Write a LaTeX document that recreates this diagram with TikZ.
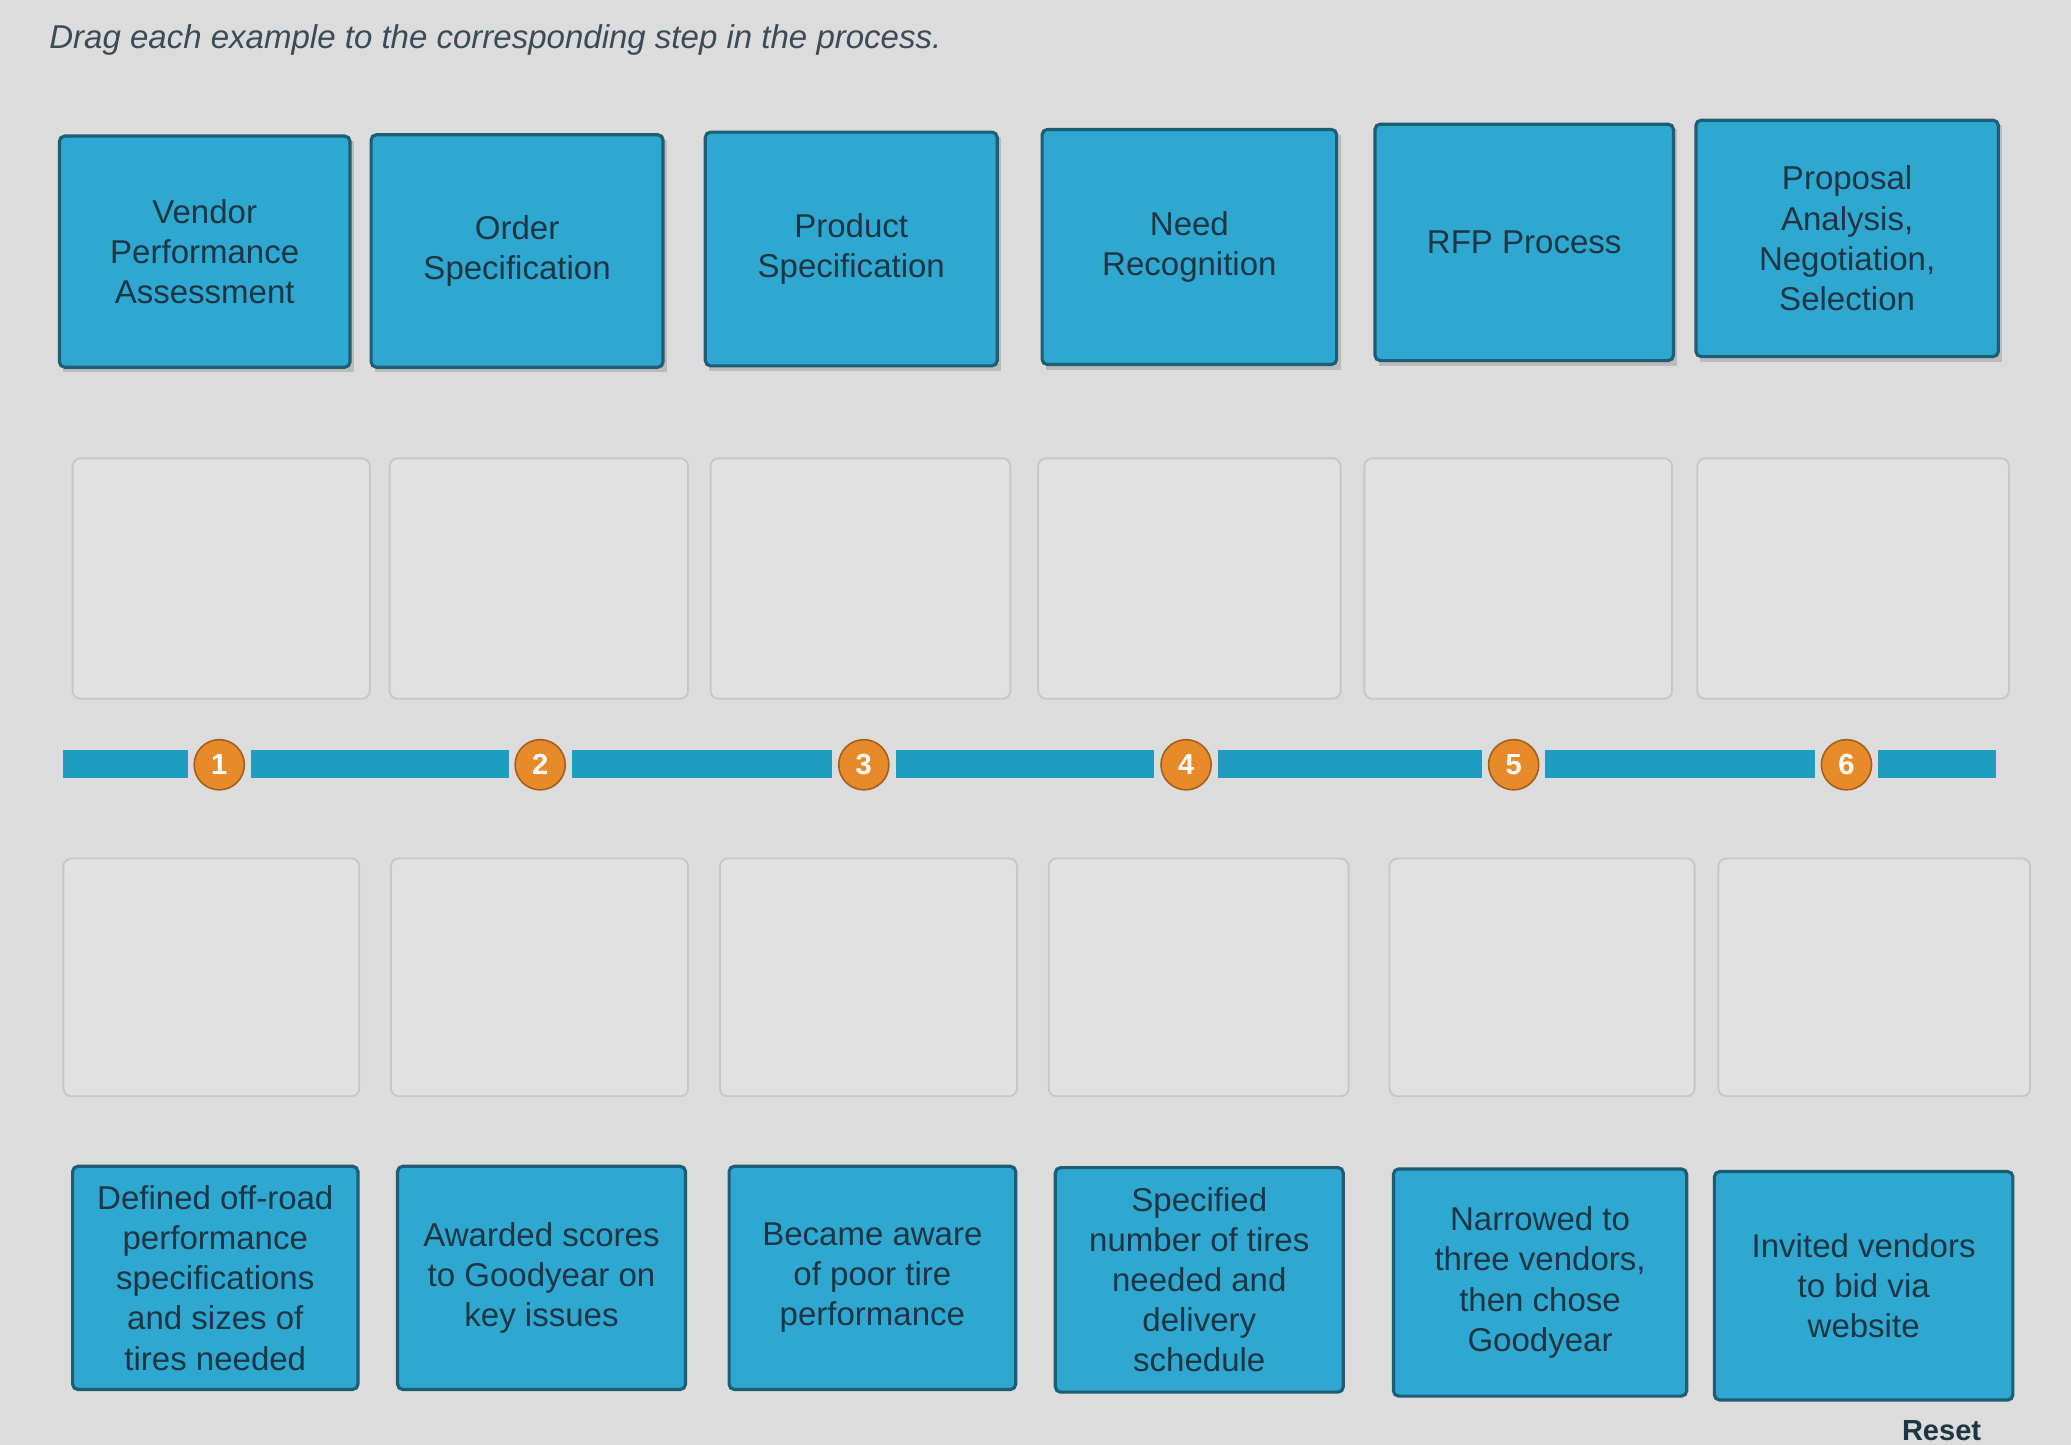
\documentclass[tikz,border=0pt]{standalone}
\usepackage{fontspec}
\setmainfont{Liberation Sans}
\definecolor{bg}{HTML}{DCDCDC}
\definecolor{tile}{HTML}{2EA8D0}
\definecolor{tileedge}{HTML}{1D5E74}
\definecolor{txt}{HTML}{1E3644}
\definecolor{bar}{HTML}{1E9CC2}
\definecolor{dot}{HTML}{E8892A}
\tikzset{
 tilebox/.style={draw=tileedge,line width=1.2pt,fill=tile,rounded corners=2pt,text=txt,font=\fontsize{12.5}{15.2}\selectfont,align=center,inner sep=0pt},
 slot/.style={draw=gray!45,line width=0.7pt,rounded corners=3pt,fill=bg!85!white},
 numdot/.style={circle,fill=dot,draw=dot!70!black,line width=0.6pt,minimum size=19pt,inner sep=0pt,text=white,font=\bfseries\fontsize{11}{11}\selectfont}
}
\begin{document}
\begin{tikzpicture}[x=0.5pt,y=-0.5pt]
\fill[bg] (0,0) rectangle (1568,1094);
\useasboundingbox (0,0) rectangle (1568,1094);
\node[anchor=west,inner sep=0pt,text=txt!70!gray,font=\itshape\fontsize{12.5}{15}\selectfont] (title) at (37,30) {Drag each example to the corresponding step in the process.};
% top tiles
\foreach \n/\a/\b/\c/\d/\t in {t1/45/103/265/278/{Vendor\\Performance\\Assessment},
 t2/281/102/502/278/{Order\\Specification},
 t3/534/100/755/277/{Product\\Specification},
 t4/789/98/1012/276/{Need\\Recognition},
 t5/1041/94/1267/273/{RFP Process},
 t6/1284/91/1513/270/{Proposal\\Analysis,\\Negotiation,\\Selection}}{
 \fill[black,opacity=0.15] (\a+3,\b+4) rectangle (\c+3,\d+4);
 \node[tilebox,minimum width={(\c-\a)*0.5pt},minimum height={(\d-\b)*0.5pt}] (\n) at ({(\a+\c)/2},{(\b+\d)/2}) {\t};
}
% slots row 1
\foreach \n/\a/\c in {s1/55/280,s2/295/521,s3/538/765,s4/786/1015,s5/1033/1266,s6/1285/1521}{
 \draw[slot] (\a,347) rectangle (\c,529);}
% slots row 2
\foreach \n/\a/\c in {u1/48/272,u2/296/521,u3/545/770,u4/794/1021,u5/1052/1283,u6/1301/1537}{
 \draw[slot] (\a,650) rectangle (\c,830);}
% timeline
\fill[bar] (48,568) rectangle (1511,589);
\foreach \x/\k in {166/1,409/2,654/3,898/4,1146/5,1398/6}{
 \fill[bg] (\x-24,566) rectangle (\x+24,591);
 \node[numdot] (d\k) at (\x,579) {\k};}
% bottom tiles
\foreach \n/\a/\b/\c/\d/\t in {b1/55/883/271/1052/{Defined off-road\\performance\\specifications\\and sizes of\\tires needed},
 b2/301/883/519/1052/{Awarded scores\\to Goodyear on\\key issues},
 b3/552/883/769/1052/{Became aware\\of poor tire\\performance},
 b4/799/884/1017/1054/{Specified\\number of tires\\needed and\\delivery\\schedule},
 b5/1055/885/1277/1057/{Narrowed to\\three vendors,\\then chose\\Goodyear},
 b6/1298/887/1524/1060/{Invited vendors\\to bid via\\website}}{
 \node[tilebox,minimum width={(\c-\a)*0.5pt},minimum height={(\d-\b)*0.5pt}] (\n) at ({(\a+\c)/2},{(\b+\d)/2}) {\t};
}
\node[anchor=south,inner sep=1pt,font=\bfseries\fontsize{11}{11}\selectfont,text=txt] (reset) at (1470,1093) {Reset};
\end{tikzpicture}
\end{document}
